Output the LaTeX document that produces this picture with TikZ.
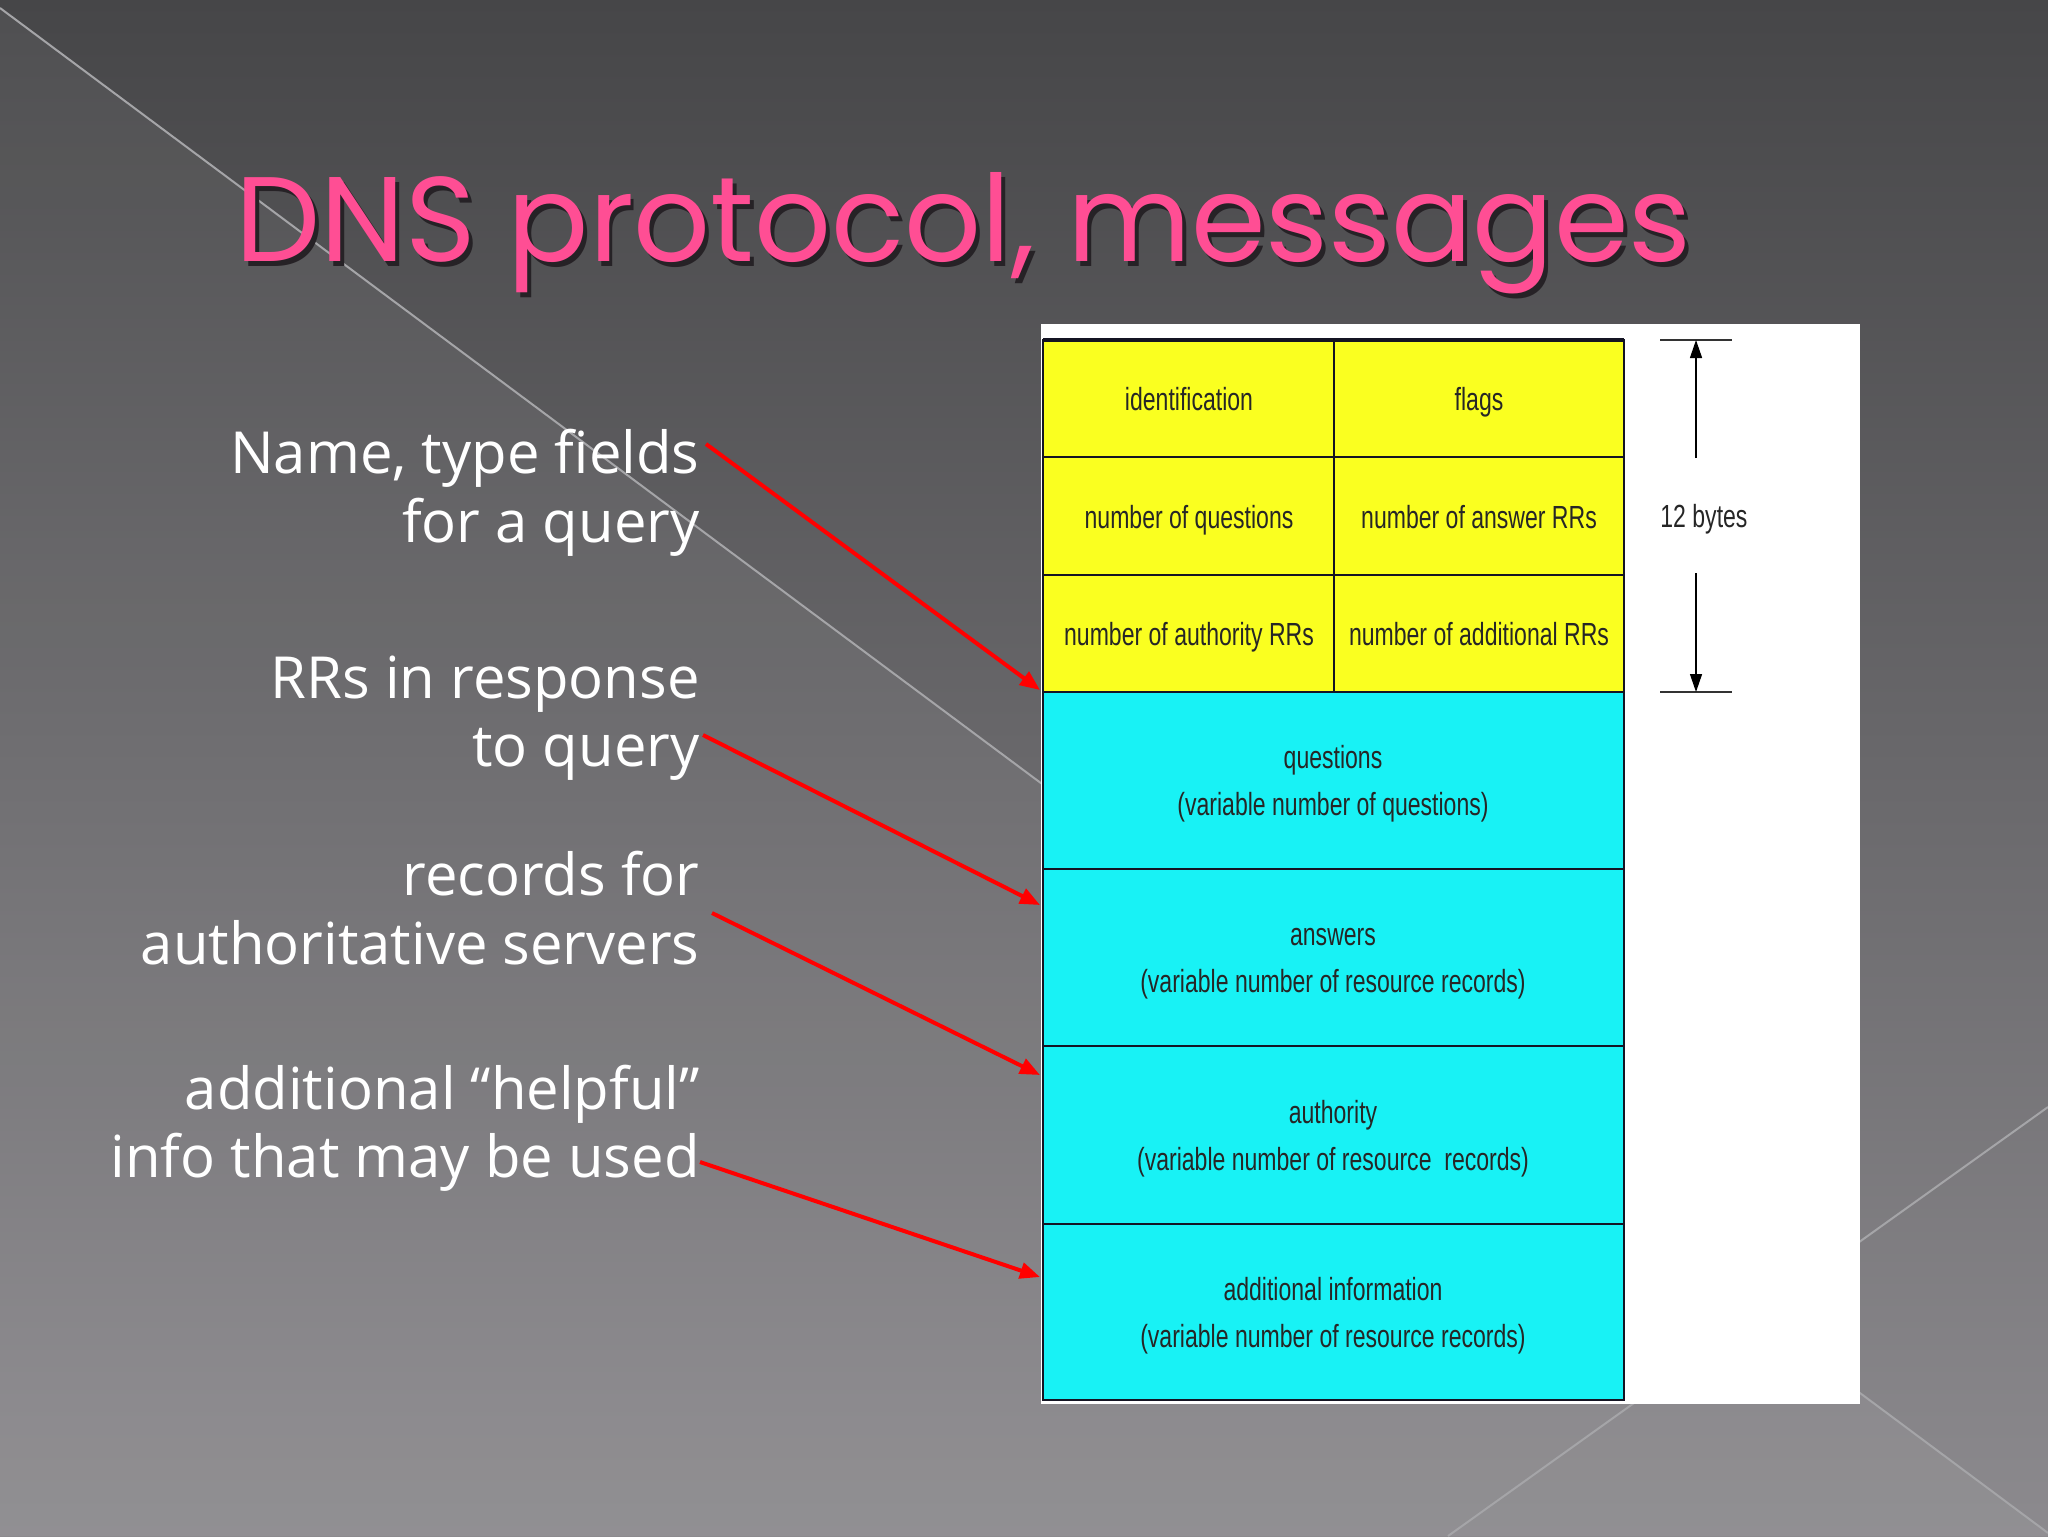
\documentclass[tikz,border=0pt]{standalone}
\usepackage{fontspec}
\setmainfont{Liberation Sans}
\newfontfamily\titlefont{Poppins}
\newfontfamily\labelfont{Open Sans}
\usetikzlibrary{arrows.meta}
\definecolor{bgtop}{RGB}{70,70,72}
\definecolor{bgbot}{RGB}{140,138,142}
\definecolor{pinkt}{RGB}{255,78,148}
\definecolor{shadowt}{RGB}{38,34,38}
\definecolor{ylw}{RGB}{250,255,32}
\definecolor{cyn}{RGB}{24,242,245}
\definecolor{redarr}{RGB}{255,0,0}
\definecolor{gline}{RGB}{165,165,168}
\definecolor{gridc}{RGB}{20,20,35}
\newcommand{\nar}[1]{\scalebox{0.72}[1]{#1}}
\newcommand{\titletext}{\resizebox{728pt}{!}{\titlefont\fontsize{60}{60}\selectfont DNS protocol, messages}}
\begin{document}
\begin{tikzpicture}[x=0.5pt,y=-0.5pt,
  cell/.style={font=\fontsize{16}{23}\selectfont, text=black!85, inner sep=0pt, anchor=base},
  lbl/.style={font=\labelfont\fontsize{29}{34.5}\selectfont, text=white, anchor=base east, inner sep=0pt},
  redarrow/.style={draw=redarr, line width=2pt, -{Triangle[length=10pt,width=8pt]}},
  dimarrow/.style={draw=black, line width=0.7pt, -{Triangle[length=9pt,width=6pt]}},
  gridline/.style={draw=gridc, line width=1.1pt},
  tick/.style={draw=black!80, line width=1.2pt},
]
\useasboundingbox (0,0) rectangle (2048,1536);
% background
\fill[top color=bgtop, bottom color=bgbot] (0,0) rectangle (2048,1536);
\fill[white, opacity=0.05] (0,8) -- (2048,1533) -- (2048,1536) -- (0,1536) -- cycle;
\draw[gline, line width=1pt] (0,8) -- (2048,1533);
\draw[gline, line width=1pt] (1448,1536) -- (2048,1107);
% title with shadow
\node[anchor=base west, inner sep=0pt] (title) at (235,261)
  {\makebox[0pt][l]{\hspace{2pt}\raisebox{-2.5pt}{\color{shadowt}\titletext}}\color{pinkt}\titletext};
% panel and table
\fill[white] (1041,324) rectangle (1860,1404);
\fill[ylw] (1043,340) rectangle (1624,692);
\fill[cyn] (1043,692) rectangle (1624,1400);
\draw[gridline] (1043,340) rectangle (1624,1400);
\draw[gridline, line width=1.6pt] (1043,340) -- (1624,340);
\foreach \yy in {457,575,692,869,1046,1224}{\draw[gridline] (1043,\yy) -- (1624,\yy);}
\draw[gridline] (1334,340) -- (1334,692);
% cell texts
\node[cell] (ident) at (1189,410) {\nar{identification}};
\node[cell] (flags) at (1479,410) {\nar{flags}};
\node[cell] (nq) at (1189,528) {\nar{number of questions}};
\node[cell] (nans) at (1479,528) {\nar{number of answer RRs}};
\node[cell] (nauth) at (1189,645) {\nar{number of authority RRs}};
\node[cell] (nadd) at (1479,645) {\nar{number of additional RRs}};
\node[cell] (qa) at (1333,768) {\nar{questions}};
\node[cell] (qb) at (1333,815) {\nar{(variable number of questions)}};
\node[cell] (aa) at (1333,945) {\nar{answers}};
\node[cell] (ab) at (1333,992) {\nar{(variable number of resource records)}};
\node[cell] (ua) at (1333,1123) {\nar{authority}};
\node[cell] (ub) at (1333,1170) {\nar{(variable number of resource\ \ records)}};
\node[cell] (da) at (1333,1300) {\nar{additional information}};
\node[cell] (db) at (1333,1347) {\nar{(variable number of resource records)}};
% dimension
\coordinate (t1) at (1660,340); \coordinate (t2) at (1732,340);
\coordinate (b1) at (1660,692); \coordinate (b2) at (1732,692);
\coordinate (dtop) at (1696,340); \coordinate (dbot) at (1696,692);
\coordinate (dup) at (1696,458); \coordinate (ddown) at (1696,573);
\draw[tick] (t1) -- (t2);
\draw[tick] (b1) -- (b2);
\draw[dimarrow] (dup) -- (dtop);
\draw[dimarrow] (ddown) -- (dbot);
\node[cell, anchor=base west] (bytes) at (1660,527) {\nar{12 bytes}};
% labels
\node[lbl] (l1a) at (700,473) {Name, type fields};
\node[lbl] (l1b) at (700,542) {for a query};
\node[lbl] (l2a) at (700,698) {RRs in response};
\node[lbl] (l2b) at (700,766) {to query};
\node[lbl] (l3a) at (700,895) {records for};
\node[lbl] (l3b) at (700,964) {authoritative servers};
\node[lbl] (l4a) at (700,1109) {additional “helpful”};
\node[lbl] (l4b) at (700,1177) {info that may be used};
% arrows
\coordinate (s1) at (706,444); \coordinate (e1) at (1040,690);
\coordinate (s2) at (703,735); \coordinate (e2) at (1040,905);
\coordinate (s3) at (712,913); \coordinate (e3) at (1040,1075);
\coordinate (s4) at (700,1162); \coordinate (e4) at (1040,1277);
\draw[redarrow] (s1) -- (e1);
\draw[redarrow] (s2) -- (e2);
\draw[redarrow] (s3) -- (e3);
\draw[redarrow] (s4) -- (e4);
\end{tikzpicture}
\end{document}
